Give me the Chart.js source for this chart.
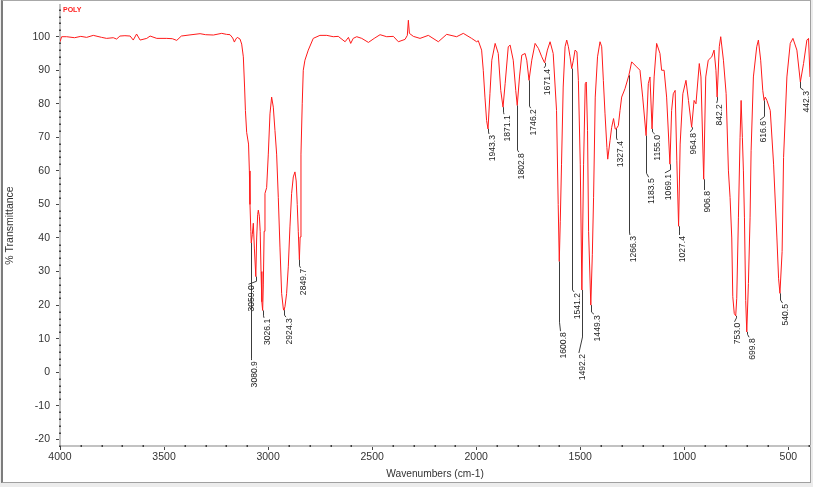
<!DOCTYPE html>
<html><head><meta charset="utf-8">
<script src="https://cdn.jsdelivr.net/npm/chart.js@4.4.1/dist/chart.umd.min.js"></script>
<style>
html,body{margin:0;padding:0;background:#ececec;width:813px;height:487px;overflow:hidden}
#frame{position:absolute;left:1px;top:0;width:807px;height:481px;background:#fff;border-left:2px solid #7c7c7c;border-top:1px solid #a8a8a8;border-right:1px solid #a0a0a0;border-bottom:1px solid #a0a0a0}
#c{position:absolute;left:0;top:0}
</style></head><body>
<div id="frame"></div>
<canvas id="c" width="813" height="487"></canvas>
<script>
// ---- data ----
const sampleName = "POLY";
const xTitle = "Wavenumbers (cm-1)";
const yTitle = "% Transmittance";
const xMajorTicks = [4000, 3500, 3000, 2500, 2000, 1500, 1000, 500];
const yMajorTicks = [100, 90, 80, 70, 60, 50, 40, 30, 20, 10, 0, -10, -20];
const xMinorStep = 100;
const yMinorStep = 2;

const wavenumbers = [4000,3992,3968,3930,3900,3872,3840,3800,3776,3744,3728,3712,3688,3663,3648,3632,3615,3583,3567,3535,3487,3460,3439,3417,3380,3327,3300,3263,3223,3200,3183,3170,3162,3155,3148,3135,3127,3119,3113,3109,3103,3098,3094,3090,3087,3083,3080.9,3076,3071,3066,3059,3055,3050,3047,3042,3038,3034,3030,3026.1,3023,3019,3015,3007,2999,2991,2983,2975,2967,2959,2951,2943,2935,2927,2924.3,2919,2911,2903,2895,2887,2879,2871,2865,2860,2855,2849.7,2846,2842,2836,2831,2823,2807,2783,2751,2718,2687,2663,2630,2614,2603,2591,2574,2550,2518,2490,2462,2430,2398,2374,2342,2331,2326,2321,2302,2270,2230,2182,2142,2094,2062,2022,1998,1990,1974,1966,1958,1950,1943.3,1934,1925,1909,1894,1882,1871.1,1861,1846,1837,1822,1810,1802.8,1792,1781,1765,1757,1746.2,1733,1717,1701,1685,1671.4,1658,1645,1630,1614,1606,1600.8,1596,1590,1582,1573,1565,1557,1549,1541.2,1533,1525,1516,1509,1500,1492.2,1484,1476,1471,1465,1460,1449.3,1442,1436,1428,1417,1405,1397,1389,1381,1372,1368,1357,1349,1340,1332,1327.4,1317,1309,1301,1285,1266.3,1253,1229,1213,1200,1183.5,1173,1165,1155,1145,1133,1117,1109,1097,1085,1069.1,1061,1053,1044,1036,1027.4,1020,1007,992,980,964.8,953,944,928,920,906.8,897,885,868,857,848,842.2,832,825,812,799,788,780,772,767,760,753,748,740,732,727,721,716,711,705,699.8,692,684,679,668,652,644,633,623,616.6,611,603,587,571,555,547,540.5,530,523,507,491,478,459,442.3,427,411,403,396];
const transmittance = [98.5,100,100,99.7,100.1,99.8,100.4,99.8,99.5,99.7,99.3,100.2,100.3,100.2,99.0,100.8,99.0,99.5,100.2,99.5,99.5,99.4,98.9,100.2,100.5,100.9,100.6,100.5,101,100.7,100.6,99.6,98.4,99.3,99.8,99.3,97.8,94,85,78,71.5,69.5,68,60,50,42,38.5,41,44.4,37,28.5,40,47,48.3,46.5,42,30,21,18.4,26,42,53.3,55,65,77,82,79,72,65,52,37.3,23.5,19,18.5,19.5,23.5,31.4,43.3,53.3,58.2,59.7,57,50,42,33.5,40.3,65,80,90,93,96,99.5,100.4,100.4,100,100.1,98.5,99.8,98,99.5,100,99.5,98.3,99.5,100.6,100,100.1,98.5,99.2,100.4,104.9,101,100.1,99.5,100.4,98.5,100.7,100,101,99.5,98.5,98.8,96,90,82,75,72.5,83,93,98,95,84,79,86,97,97.5,93,84,79.5,88,94.5,95,93,87,93,98,96.5,94,92.2,96,98.5,95,78,50,33,45,62,85,97,99,97,94,90.5,93,96,95.5,87,62,24.5,62,86,86.5,72,42,20,35,52,82,94,98.5,97,87,77,67,63.5,69,73,75.6,72.5,72.5,73.5,78,82,84.5,88.5,92.5,91,90,82,70.5,86,88,72.5,88,98,95,90,90,82,62,78,83,84,63,43.5,68,83,87,81,73,81,80,92,88,57.5,88,93,94,96,90,82,97,100,93,83,60,52,40,22.5,17.5,16.8,22,46,70,81,70,60,46,21.4,12,26.4,46,66,88,97,99,93,84,81,82,81,78,62,40,28,23.5,36,64,88,98,99.5,96,86.5,92,99,99.5,88];

const peakPositions = [3080.9,3059.0,3026.1,2924.3,2849.7,1943.3,1871.1,1802.8,1746.2,1671.4,1600.8,1541.2,1492.2,1449.3,1327.4,1266.3,1183.5,1155.0,1069.1,1027.4,964.8,906.8,842.2,753.0,699.8,616.6,540.5,442.3];
const peakLabels = ["3080.9","3059.0","3026.1","2924.3","2849.7","1943.3","1871.1","1802.8","1746.2","1671.4","1600.8","1541.2","1492.2","1449.3","1327.4","1266.3","1183.5","1155.0","1069.1","1027.4","964.8","906.8","842.2","753.0","699.8","616.6","540.5","442.3"];

// ---- annotation layout (leader end in data units, text shift in px) ----
const peakLayout = [
  [4.2,0,2],[27.1,-8,3],[16.8,0.5,2],[17.0,1.5,2],[31.7,1,2],
  [71.6,0.5,2],[77.5,0.5,2],[66.2,1.3,2],[79.3,1.2,2],[91.3,-1.4,2],
  [14.9,1,9],[24.5,1.6,2],[10.5,-3.6,16],[17.9,2.4,2],[69.8,0.8,2],
  [41.8,0.4,3],[59.3,2.2,4],[71.6,2.2,2],[60.3,-5.6,3],[41.8,0,3],
  [72.5,-2.3,3],[55.5,0,4],[81.1,-0.8,3],[16.2,-2,4],[11.3,1.6,3],
  [76.2,-4.5,3.5],[21.5,2,3],[84.7,3,2]
];

function valueAt(wn){
  for (let i=0;i<wavenumbers.length-1;i++){
    const a=wavenumbers[i], b=wavenumbers[i+1];
    if (wn<=a && wn>=b){ const t=(a-wn)/(a-b); return transmittance[i]+t*(transmittance[i+1]-transmittance[i]); }
  }
  return transmittance[transmittance.length-1];
}

const FONT = '"Liberation Sans", Arial, sans-serif';

const decorPlugin = {
  id:'decor',
  afterDatasetsDraw(chart){
    const {ctx, scales:{x,y}} = chart;
    ctx.save();
    ctx.lineWidth=1; ctx.strokeStyle='#3c3c3c'; ctx.fillStyle='#1e1e1e';
    ctx.font='8.6px '+FONT;
    peakPositions.forEach((wn,i)=>{
      const [endT, dx, dy] = peakLayout[i];
      const px = Math.round(x.getPixelForValue(wn))+0.5;
      const y0 = y.getPixelForValue(valueAt(wn));
      const y1 = y.getPixelForValue(endT);
      ctx.beginPath(); ctx.moveTo(px,y0); ctx.lineTo(px,y1); ctx.lineTo(px+dx,y1+dy); ctx.stroke();
      ctx.save(); ctx.translate(px+dx+3.3, y1+dy+1); ctx.rotate(-Math.PI/2);
      ctx.textAlign='right'; ctx.textBaseline='middle'; ctx.fillText(peakLabels[i],0,0); ctx.restore();
    });
    ctx.restore();
  },
  afterDraw(chart){
    const {ctx, scales:{x,y}} = chart;
    ctx.save();
    ctx.fillStyle='#404040';
    const xb = x.top;
    for (let v=Math.ceil(x.min/xMinorStep)*xMinorStep; v<=x.max; v+=xMinorStep){
      if (xMajorTicks.includes(v)) continue;
      ctx.fillRect(Math.round(x.getPixelForValue(v))-0.5, xb-1, 1.5, 2);
    }
    const yr = y.right;
    for (let v=Math.ceil(y.min/yMinorStep)*yMinorStep; v<=y.max; v+=yMinorStep){
      if (yMajorTicks.includes(v)) continue;
      ctx.fillRect(yr-1, Math.round(y.getPixelForValue(v))-0.5, 2, 1.5);
    }
    ctx.fillStyle='#ff2020';
    ctx.font='bold 7px '+FONT;
    ctx.textAlign='left'; ctx.textBaseline='middle';
    ctx.fillText(sampleName, 63, 10);
    ctx.restore();
  }
};

new Chart(document.getElementById('c'), {
  type:'line',
  data:{datasets:[{
    data: wavenumbers.map((w,i)=>({x:w, y:transmittance[i]})),
    borderColor:'#ff1a1a', borderWidth:1, pointRadius:0, tension:0, fill:false
  }]},
  options:{
    responsive:false, animation:false, devicePixelRatio:1,
    layout:{padding:{left:0, top:5, right:3, bottom:0}},
    plugins:{legend:{display:false}, tooltip:{enabled:false}},
    scales:{
      x:{
        type:'linear', reverse:true, min:396, max:4000,
        afterBuildTicks:s=>{ s.ticks = xMajorTicks.slice().reverse().map(v=>({value:v})); },
        afterFit:s=>{ s.height = 41; s.paddingLeft = 0; s.paddingRight = 0; },
        ticks:{autoSkip:false, maxRotation:0, padding:1, color:'#333', font:{family:FONT, size:10.5}, callback:v=>String(v)},
        grid:{drawOnChartArea:false, tickLength:4, tickColor:'#444', tickWidth:1},
        border:{color:'#c2c2c2', width:2},
        title:{display:true, text:xTitle, color:'#333', font:{family:FONT, size:10.2}, padding:{top:0, bottom:7}}
      },
      y:{
        min:-22, max:109.45,
        afterBuildTicks:s=>{ s.ticks = yMajorTicks.slice().reverse().map(v=>({value:v})); },
        afterFit:s=>{ s.width = 60; s.paddingTop = 0; s.paddingBottom = 0; },
        ticks:{padding:6, color:'#333', font:{family:FONT, size:10.5}, callback:v=>String(v)},
        grid:{drawOnChartArea:false, tickLength:4, tickColor:'#444', tickWidth:1},
        border:{color:'#c2c2c2', width:2},
        title:{display:true, text:yTitle, color:'#333', font:{family:FONT, size:10.5}, padding:{top:4, bottom:0}}
      }
    }
  },
  plugins:[decorPlugin]
});
</script></body></html>
